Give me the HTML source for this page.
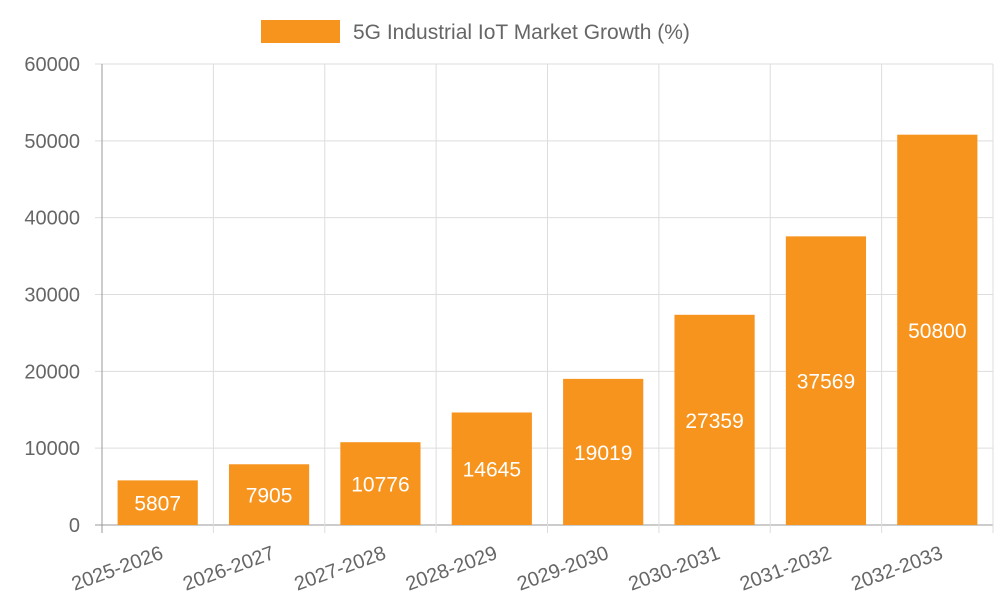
<!DOCTYPE html>
<html><head><meta charset="utf-8"><style>
body{margin:0;background:#fff;}
svg text{font-family:"Liberation Sans",sans-serif;}
</style></head><body>
<svg id="chart" width="1000" height="600" xmlns="http://www.w3.org/2000/svg">
<g id="grid"></g>
<g id="bars"></g>
<g id="axes"></g>
<g>
<rect x="261" y="20" width="79" height="23" fill="#F7941E"/>
<text x="353" y="39" font-size="21" fill="#666">5G Industrial IoT Market Growth (%)</text>
</g>
</svg>
<script>
const categories=["2025-2026","2026-2027","2027-2028","2028-2029","2029-2030","2030-2031","2031-2032","2032-2033"];
const values=[5807,7905,10776,14645,19019,27359,37569,50800];
const yTicks=[0,10000,20000,30000,40000,50000,60000];
const NS="http://www.w3.org/2000/svg";
const L=102,R=993,T=64,B=525,yMax=60000;
const y=v=>B-(v/yMax)*(B-T);
const bw=(R-L)/categories.length;
const x=i=>L+bw*i;
function mk(p,tag,a){const e=document.createElementNS(NS,tag);for(const k in a)e.setAttribute(k,a[k]);p.appendChild(e);return e;}
const grid=document.getElementById('grid'),bars=document.getElementById('bars'),axes=document.getElementById('axes');
yTicks.forEach(t=>{
 const g=mk(grid,'line',{x1:L-7,x2:R,y1:y(t),y2:y(t),stroke:t===0?'#999':'#ddd','stroke-width':1});
 
 
 const tx=mk(axes,'text',{x:80,y:y(t)+7,'text-anchor':'end','font-size':20,fill:'#666'});
 tx.textContent=t;
 
 
});
for(let i=1;i<=categories.length;i++){
 const g=mk(grid,'line',{x1:x(i),x2:x(i),y1:T,y2:B+8,stroke:'#ddd','stroke-width':1});
 
 
}
const ax=mk(axes,'line',{x1:L,x2:L,y1:T,y2:B+8,stroke:'#999','stroke-width':1});


categories.forEach((c,i)=>{
 const cx=x(i)+bw/2,w=bw*0.72,top=y(values[i]);
 const r=mk(bars,'rect',{x:cx-w/2,y:top,width:w,height:B-top,fill:'#F7941E'});
 
 
 const v=mk(bars,'text',{x:cx,y:(top+B)/2+8,'text-anchor':'middle','font-size':21,fill:'#fff'});
 v.textContent=values[i];
 
 
 const lx=cx+2,ly=545;
 const t=mk(axes,'text',{x:lx,y:ly+14,'text-anchor':'end','font-size':20,fill:'#666',transform:`rotate(-20 ${lx} ${ly})`});
 t.textContent=c;
 
 
});
</script>
</body></html>
